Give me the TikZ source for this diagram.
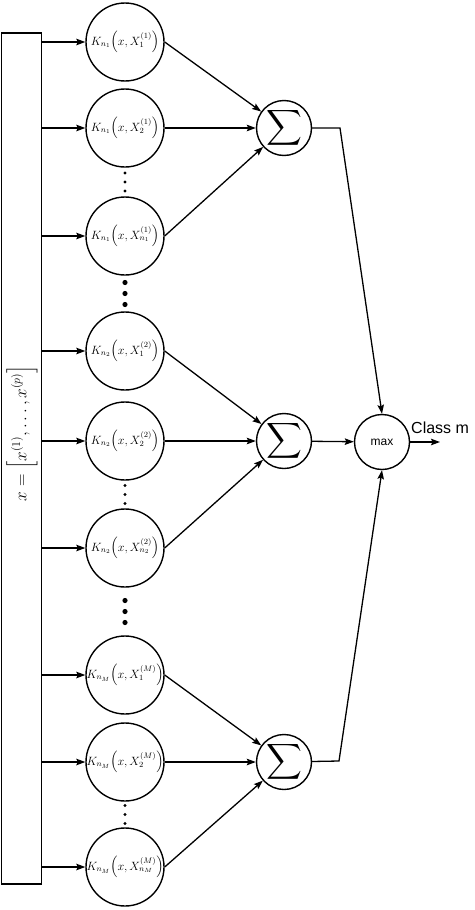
\documentclass[tikz,border=0pt]{standalone}
\usepackage{amsmath}
\usepackage{fontspec}
\newfontfamily\arialfont{Liberation Sans}
\usetikzlibrary{arrows.meta,positioning,calc}
\newcommand{\kerlabel}[1]{\makebox[60pt]{$#1$}}

\begin{document}
\begin{tikzpicture}[
  x=1pt,y=-1pt,
  kernel/.style={
    draw,
    circle,
    line width=1.4pt,
    minimum size=78pt,
    inner sep=0pt,
    font=\fontsize{12}{14}\selectfont
  },
  sumnode/.style={
    draw,
    circle,
    line width=1.4pt,
    minimum size=55pt,
    inner sep=0pt,
    font=\fontsize{25}{28}\selectfont
  },
  arrow/.style={-{Stealth[length=9pt,width=6.5pt,inset=1.5pt]},line width=1.3pt}
]
  \useasboundingbox (0,0) rectangle (474,910);

  \node[draw,line width=1.4pt,minimum width=40pt,minimum height=851pt,inner sep=0pt] (inp) at (21.5,458.5) {};
  \node[rotate=90,inner sep=0pt,font=\fontsize{17}{19}\selectfont] (inlabel) at (22,433)
    {$x=\Bigl[x^{(1)},\ldots,x^{(p)}\Bigr]$};

  \node[sumnode] (max) at (382,442) {};
  \node[font=\arialfont\fontsize{12}{14}\selectfont] (maxlabel) at (max) {max};

  \foreach \g/\n/\ya/\yb/\yc in {1/1/42/128/236, 2/2/351/441/548, 3/M/675/762/867}{
    \node[kernel] (k\g a) at (125,\ya) {\kerlabel{K_{n_\n}\!\left(x,X_1^{(\n)}\right)}};
    \node[kernel] (k\g b) at (125,\yb) {\kerlabel{K_{n_\n}\!\left(x,X_2^{(\n)}\right)}};
    \node[kernel] (k\g c) at (125,\yc) {\kerlabel{K_{n_\n}\!\left(x,X_{n_\n}^{(\n)}\right)}};
    \node[sumnode] (s\g) at (284,\yb) {$\displaystyle\sum$};
    \foreach \k in {a,b,c}{
      \draw[arrow] (inp.east |- k\g\k) -- (k\g\k);
      \draw[arrow] (k\g\k.east) -- (s\g);
    }
    \foreach \d in {-9,0,9}
      \fill ($(k\g b)!0.5!(k\g c)+(0,\d)$) circle (1.7pt);
  }

  % big dots between the groups
  \foreach \d in {-11,0,11}{
    \fill ($(k1c)!0.5!(k2a)+(0,\d)$) circle (2.6pt);
    \fill ($(k2c)!0.5!(k3a)+(0,\d)$) circle (2.6pt);
  }

  \coordinate (b1) at (340,128);
  \coordinate (b3) at (339,761);
  \coordinate (out) at (440,442);
  \draw[arrow] (s1) -- (b1) -- (max.north);
  \draw[arrow] (s2) -- (max);
  \draw[arrow] (s3) -- (b3) -- (max.south);
  \draw[arrow] (max) -- (out);
  \node[anchor=south west,inner sep=0pt,font=\arialfont\fontsize{16}{18}\selectfont] (cls) at (411,434) {Class m};
\end{tikzpicture}
\end{document}
